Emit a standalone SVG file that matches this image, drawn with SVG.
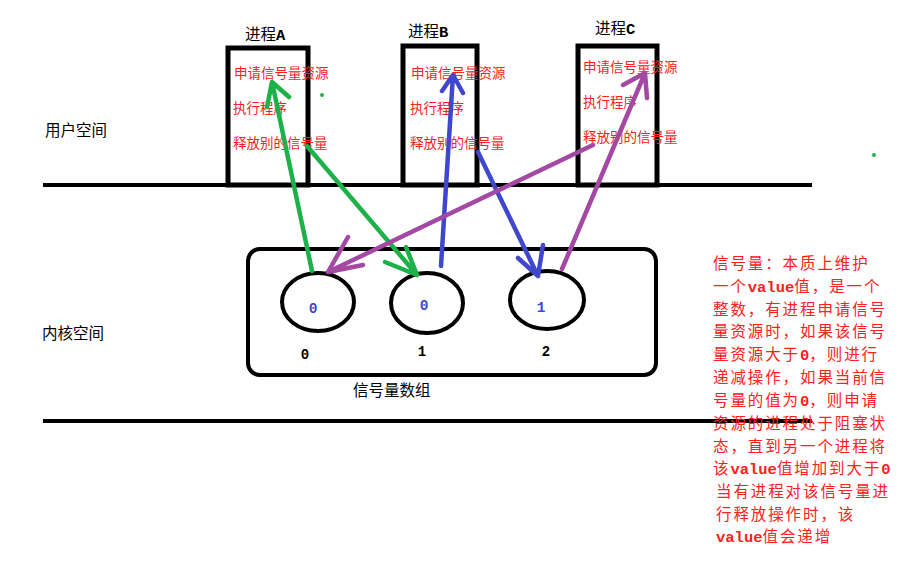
<svg xmlns="http://www.w3.org/2000/svg" width="909" height="563" viewBox="0 0 909 563">
<defs>
<style>
.line{stroke:#000;stroke-width:4;fill:none}
.box{stroke:#000;stroke-width:5;fill:#fff}
.cj{font-family:"Noto Sans CJK SC","Liberation Sans",sans-serif}
.lbl{font-size:15.5px;fill:#000}
.red{font-size:13.5px;fill:#ff2020}
.note{font-size:15.5px;fill:#ff2020;letter-spacing:1.9px}
.mono{font-family:"Liberation Mono","DejaVu Sans Mono",monospace;font-weight:bold}
.val{font-size:14.5px;fill:#3f48cc}
.idx{font-size:14px;fill:#000}
.g{stroke:#1db14a;stroke-width:4.5;fill:none;stroke-linecap:round;stroke-linejoin:round}
.b{stroke:#3f48cc;stroke-width:4.5;fill:none;stroke-linecap:round;stroke-linejoin:round}
.p{stroke:#a349a4;stroke-width:4.5;fill:none;stroke-linecap:round;stroke-linejoin:round}
</style>
</defs>
<rect width="909" height="563" fill="#fff"/>
<g id="space-lines">
<line class="line" x1="43" y1="185" x2="812" y2="185"/>
<line class="line" x1="43" y1="421" x2="812" y2="421"/>
<text class="cj lbl" x="45" y="136">用户空间</text>
<text class="cj lbl" x="42" y="339">内核空间</text>
</g>
<g id="procA">
<rect class="box" x="228" y="48" width="80" height="137"/>
<text class="cj lbl" x="245" y="40">进程<tspan class="mono">A</tspan></text>
<text class="cj red" x="234" y="78">申请信号量资源</text>
<text class="cj red" x="233" y="113">执行程序</text>
<text class="cj red" x="233" y="148">释放别的信号量</text>
</g>
<g id="procB">
<rect class="box" x="403" y="46" width="74" height="139"/>
<text class="cj lbl" x="408" y="37">进程<tspan class="mono">B</tspan></text>
<text class="cj red" x="411" y="78">申请信号量资源</text>
<text class="cj red" x="410" y="113">执行程序</text>
<text class="cj red" x="410" y="148">释放别的信号量</text>
</g>
<g id="procC">
<rect class="box" x="578" y="46" width="79" height="139"/>
<text class="cj lbl" x="595" y="34">进程<tspan class="mono">C</tspan></text>
<text class="cj red" x="583" y="72">申请信号量资源</text>
<text class="cj red" x="583" y="107">执行程序</text>
<text class="cj red" x="583" y="142">释放别的信号量</text>
</g>
<g id="sem-array">
<rect class="line" x="248" y="249" width="408" height="126" rx="12"/>
<text class="cj lbl" x="353" y="396">信号量数组</text>
</g>
<g id="sem0">
<ellipse class="line" cx="318" cy="302" rx="36" ry="29"/>
<text class="mono val" x="313" y="313" text-anchor="middle">0</text>
<text class="mono idx" x="305" y="359" text-anchor="middle">0</text>
</g>
<g id="sem1">
<ellipse class="line" cx="427" cy="303" rx="36" ry="30"/>
<text class="mono val" x="424" y="310" text-anchor="middle">0</text>
<text class="mono idx" x="422" y="356" text-anchor="middle">1</text>
</g>
<g id="sem2">
<ellipse class="line" cx="547" cy="300" rx="37" ry="29"/>
<text class="mono val" x="541" y="312" text-anchor="middle">1</text>
<text class="mono idx" x="546" y="356" text-anchor="middle">2</text>
</g>
<g id="dots">
<circle cx="322" cy="95" r="2" fill="#1db14a"/>
<circle cx="874" cy="155" r="2" fill="#1db14a"/>
</g>
<g id="connectors">
<path class="g" d="M312 271 L272 82 M267 107 L272 82 L289 97"/>
<path class="g" d="M307 146 L417 275 M385 262 L417 275 L406 247"/>
<path class="b" d="M441 266 L453 75 M442 91 L453 75 L463 93"/>
<path class="b" d="M478 152 L538 276 M518 258 L538 276 L543 245"/>
<path class="p" d="M562 269 L645 73 M623 85 L645 73 L647 98"/>
<path class="p" d="M593 145 L328 272 M363 265 L328 272 L348 237"/>
</g>
<g id="note">
<text class="cj note" x="713" y="269">信号量：本质上维护</text>
<text class="cj note" x="713" y="292">一个<tspan class="mono" letter-spacing="0">value</tspan>值，是一个</text>
<text class="cj note" x="713" y="315">整数，有进程申请信号</text>
<text class="cj note" x="713" y="337">量资源时，如果该信号</text>
<text class="cj note" x="713" y="360">量资源大于<tspan class="mono" letter-spacing="0">0</tspan>，则进行</text>
<text class="cj note" x="713" y="383">递减操作，如果当前信</text>
<text class="cj note" x="713" y="406">号量的值为<tspan class="mono" letter-spacing="0">0</tspan>，则申请</text>
<text class="cj note" x="713" y="429">资源的进程处于阻塞状</text>
<text class="cj note" x="713" y="452">态，直到另一个进程将</text>
<text class="cj note" x="713" y="474">该<tspan class="mono" letter-spacing="0">value</tspan>值增加到大于<tspan class="mono">0</tspan></text>
<text class="cj note" x="716" y="497">当有进程对该信号量进</text>
<text class="cj note" x="716" y="520">行释放操作时，该</text>
<text class="cj note" x="716" y="542"><tspan class="mono" letter-spacing="0">value</tspan>值会递增</text>
</g>
</svg>
